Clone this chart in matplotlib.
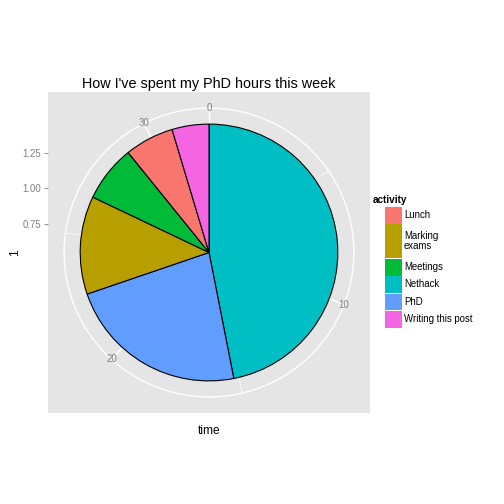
import numpy as np
import matplotlib
matplotlib.use("Agg")
import matplotlib.pyplot as plt
from matplotlib.patches import Circle, Rectangle

plt.rcParams['font.family'] = ['Liberation Sans', 'DejaVu Sans']

# data, in legend order
activities = ['Lunch', 'Marking\nexams', 'Meetings', 'Nethack', 'PhD', 'Writing this post']
hours = [2.0, 4.0, 2.3, 15.2, 7.4, 1.5]
colours = ['#F8766D', '#B79F00', '#00BA38', '#00BFC4', '#619CFF', '#F564E3']
# order the slices are stacked clockwise from the top
pie_order = [3, 4, 1, 2, 0, 5]
theta_breaks = [0, 10, 20, 30]
theta_minor = [5, 15, 25]
r_breaks = [0.75, 1.00, 1.25]

total = sum(hours)
grey_txt = '#7F7F7F'

fig = plt.figure(figsize=(5.04, 5.04), dpi=100)
W = H = 504.0
# panel in pixels: x 48..370, y 92..413
ax = fig.add_axes([48 / W, (H - 413) / H, 322 / W, 321 / H])
ax.set_xlim(-0.5, 0.5)
ax.set_ylim(-0.5, 0.5)
ax.set_facecolor('#E5E5E5')
for s in ax.spines.values():
    s.set_visible(False)


def rscale(v):
    # radial (x) scale of the bar: 0.55..1.45 -> 0..0.4
    return (v - 0.55) / 0.9 * 0.4


def ang(t):
    # clockwise from top
    return np.pi / 2 - 2 * np.pi * t / total


# grid
ax.add_patch(Circle((0, 0), 0.45, fill=False, ec='white', lw=1.0, zorder=1))
for v in r_breaks:
    ax.add_patch(Circle((0, 0), rscale(v), fill=False, ec='white', lw=1.0, zorder=1))
for t in theta_breaks + theta_minor:
    a = ang(t)
    ax.plot([0, 0.45 * np.cos(a)], [0, 0.45 * np.sin(a)], color='white',
            lw=1.0 if t in theta_breaks else 0.5, zorder=1)

# pie
vals = [hours[i] for i in pie_order]
cols = [colours[i] for i in pie_order]
ax.pie(vals, colors=cols, startangle=90, counterclock=False, radius=0.4,
       center=(0, 0), frame=True,
       wedgeprops=dict(edgecolor='black', linewidth=0.8, zorder=2))
ax.set_xlim(-0.5, 0.5)
ax.set_ylim(-0.5, 0.5)
ax.set_aspect('auto')

# theta labels sitting on the outer circle
for t in theta_breaks:
    a = ang(t)
    ax.text(0.45 * np.cos(a), 0.45 * np.sin(a), str(t), ha='center', va='center',
            fontsize=6.9, color=grey_txt, zorder=3)

# radial axis
ax.set_xticks([])
ax.set_yticks([rscale(v) for v in r_breaks])
ax.set_yticklabels(['%.2f' % v for v in r_breaks])
ax.tick_params(axis='y', length=3, width=0.6, color=grey_txt, labelcolor=grey_txt,
               labelsize=6.9, pad=2)
ax.set_ylabel('1', fontsize=8.6, labelpad=6)
ax.yaxis.set_label_coords(-0.085, 0.5)
ax.set_xlabel('time', fontsize=8.6, labelpad=9)
ax.set_title("How I've spent my PhD hours this week", fontsize=10.4, pad=3)

# legend
fig.text(373 / W, 1 - 200 / H, 'activity', fontsize=7.2, fontweight='bold',
         ha='left', va='center')
y = 206.5
for lab, c in zip(activities, colours):
    h = 34.5 if '\n' in lab else 17.3
    fig.patches.append(Rectangle((385 / W, 1 - (y + h) / H), 17 / W, (h - 0.6) / H,
                                 transform=fig.transFigure, fc=c, ec='none'))
    fig.text(404 / W, 1 - (y + h / 2) / H, lab, fontsize=6.9, ha='left', va='center',
             linespacing=1.0)
    y += h

fig.savefig('out.png', dpi=100)
